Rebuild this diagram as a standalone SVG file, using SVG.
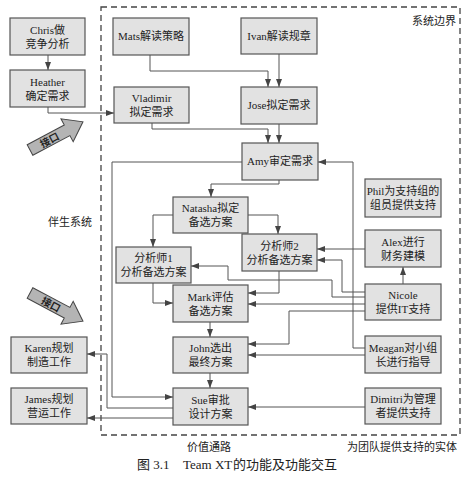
<svg xmlns="http://www.w3.org/2000/svg" width="474" height="479" viewBox="0 0 474 479">
<style>
.box rect{fill:#e2e2e2;stroke:#555;stroke-width:1.2}
.box text,.lbl{font-family:"Liberation Serif","Noto Sans CJK SC",serif;font-size:11px;fill:#222;text-anchor:middle}
.lbl{font-size:11px}
.conn path{fill:none;stroke:#555;stroke-width:1}
.iface path{fill:#b4b4b4;stroke:#444;stroke-width:1}
.iface text{font-family:"Noto Sans CJK SC",sans-serif;font-size:10px;fill:#222;text-anchor:middle;font-weight:bold}
</style>
<defs>
<marker id="ah" viewBox="0 0 8 6" refX="8" refY="3" markerWidth="8" markerHeight="6" markerUnits="userSpaceOnUse" orient="auto">
<path d="M0,0 L8,3 L0,6 Z" fill="#444"/>
</marker>
</defs>
<rect width="474" height="479" fill="#fff"/>
<rect x="101" y="7" width="359" height="428" fill="none" stroke="#444" stroke-width="1.3" stroke-dasharray="6 4"/>
<text class="lbl" x="434" y="25">系统边界</text>
<text class="lbl" x="70" y="226">伴生系统</text>
<text class="lbl" x="209" y="451">价值通路</text>
<text class="lbl" x="402" y="451">为团队提供支持的实体</text>
<text font-family="Liberation Serif,Noto Sans CJK SC,serif" font-size="13" fill="#222"><tspan x="137" y="469">图 3.1</tspan><tspan x="183" y="469">Team XT</tspan><tspan x="233" y="469" textLength="104">的功能及功能交互</tspan></text>

<g class="iface" id="iface1" transform="translate(30,150) rotate(-28)">
<path d="M0,-6 L42,-6 L42,-13 L60,0 L42,13 L42,6 L0,6 Z"/>
<text x="22" y="4">接口</text>
</g>
<g class="iface" id="iface2" transform="translate(30,293) rotate(28)">
<path d="M0,-6 L42,-6 L42,-13 L60,0 L42,13 L42,6 L0,6 Z"/>
<text x="24" y="4">接口</text>
</g>

<g class="conn" id="connectors">
<path d="M48,55 V70" marker-end="url(#ah)"/>
<path d="M48,107 V113 H114" marker-end="url(#ah)"/>
<path d="M150,55 V71 H268 V87" marker-end="url(#ah)"/>
<path d="M279,54 V87" marker-end="url(#ah)"/>
<path d="M152,123 V129 H268 V143" marker-end="url(#ah)"/>
<path d="M279,124 V143" marker-end="url(#ah)"/>
<path d="M242,162 H112 V397 H173" marker-end="url(#ah)"/>
<path d="M279,180 V184 H211 V197" marker-end="url(#ah)"/>
<path d="M173,215 H153 V247" marker-end="url(#ah)"/>
<path d="M248,215 H278 V234" marker-end="url(#ah)"/>
<path d="M153,283 V303 H173" marker-end="url(#ah)"/>
<path d="M279,271 V293 H248" marker-end="url(#ah)"/>
<path d="M210,322 V337" marker-end="url(#ah)"/>
<path d="M210,373 V388" marker-end="url(#ah)"/>
<path d="M403,284 V267" marker-end="url(#ah)"/>
<path d="M365,249 H317" marker-end="url(#ah)"/>
<path d="M365,292 H342 V260 H317" marker-end="url(#ah)"/>
<path d="M365,297 H332 V280 H228 V266 H191" marker-end="url(#ah)"/>
<path d="M365,304 H248" marker-end="url(#ah)"/>
<path d="M365,311 H289 V344 H248" marker-end="url(#ah)"/>
<path d="M365,355 H248" marker-end="url(#ah)"/>
<path d="M365,348 H353 V162 H318" marker-end="url(#ah)"/>
<path d="M365,407 H248" marker-end="url(#ah)"/>
<path d="M173,408 H107 V354 H87" marker-end="url(#ah)"/>
<path d="M173,418 H87" marker-end="url(#ah)"/>
</g>

<g class="box" id="chris"><rect x="10" y="18" width="75" height="37"/><text x="47.5" y="34">Chris做</text><text x="47.5" y="48">竞争分析</text></g>
<g class="box" id="heather"><rect x="10" y="70" width="75" height="37"/><text x="47.5" y="86">Heather</text><text x="47.5" y="100">确定需求</text></g>
<g class="box" id="mats"><rect x="113" y="18" width="76" height="37"/><text x="151" y="40">Mats解读策略</text></g>
<g class="box" id="vladimir"><rect x="114" y="87" width="75" height="36"/><text x="151.5" y="102">Vladimir</text><text x="151.5" y="116">拟定需求</text></g>
<g class="box" id="ivan"><rect x="241" y="18" width="76" height="36"/><text x="279" y="40">Ivan解读规章</text></g>
<g class="box" id="jose"><rect x="241" y="87" width="76" height="37"/><text x="279" y="109">Jose拟定需求</text></g>
<g class="box" id="amy"><rect x="242" y="143" width="76" height="37"/><text x="280" y="165">Amy审定需求</text></g>
<g class="box" id="natasha"><rect x="173" y="197" width="75" height="36"/><text x="210.5" y="212">Natasha拟定</text><text x="210.5" y="226">备选方案</text></g>
<g class="box" id="analyst2"><rect x="242" y="234" width="75" height="37"/><text x="279.5" y="250">分析师2</text><text x="279.5" y="264">分析备选方案</text></g>
<g class="box" id="analyst1"><rect x="116" y="247" width="75" height="36"/><text x="153.5" y="262">分析师1</text><text x="153.5" y="276">分析备选方案</text></g>
<g class="box" id="mark"><rect x="173" y="285" width="75" height="37"/><text x="210.5" y="301">Mark评估</text><text x="210.5" y="315">备选方案</text></g>
<g class="box" id="john"><rect x="173" y="337" width="75" height="36"/><text x="210.5" y="352">John选出</text><text x="210.5" y="366">最终方案</text></g>
<g class="box" id="sue"><rect x="173" y="388" width="75" height="37"/><text x="210.5" y="404">Sue审批</text><text x="210.5" y="418">设计方案</text></g>
<g class="box" id="karen"><rect x="11" y="337" width="76" height="36"/><text x="49" y="352">Karen规划</text><text x="49" y="366">制造工作</text></g>
<g class="box" id="james"><rect x="11" y="388" width="76" height="36"/><text x="49" y="403">James规划</text><text x="49" y="417">营运工作</text></g>
<g class="box" id="phil"><rect x="365" y="179" width="76" height="38"/><text x="403" y="195">Phil为支持组的</text><text x="403" y="209">组员提供支持</text></g>
<g class="box" id="alex"><rect x="365" y="230" width="76" height="37"/><text x="403" y="246">Alex进行</text><text x="403" y="260">财务建模</text></g>
<g class="box" id="nicole"><rect x="365" y="284" width="76" height="36"/><text x="403" y="299">Nicole</text><text x="403" y="313">提供IT支持</text></g>
<g class="box" id="meagan"><rect x="365" y="336" width="76" height="37"/><text x="403" y="352">Meagan对小组</text><text x="403" y="366">长进行指导</text></g>
<g class="box" id="dimitri"><rect x="365" y="388" width="76" height="36"/><text x="403" y="403">Dimitri为管理</text><text x="403" y="417">者提供支持</text></g>
</svg>
